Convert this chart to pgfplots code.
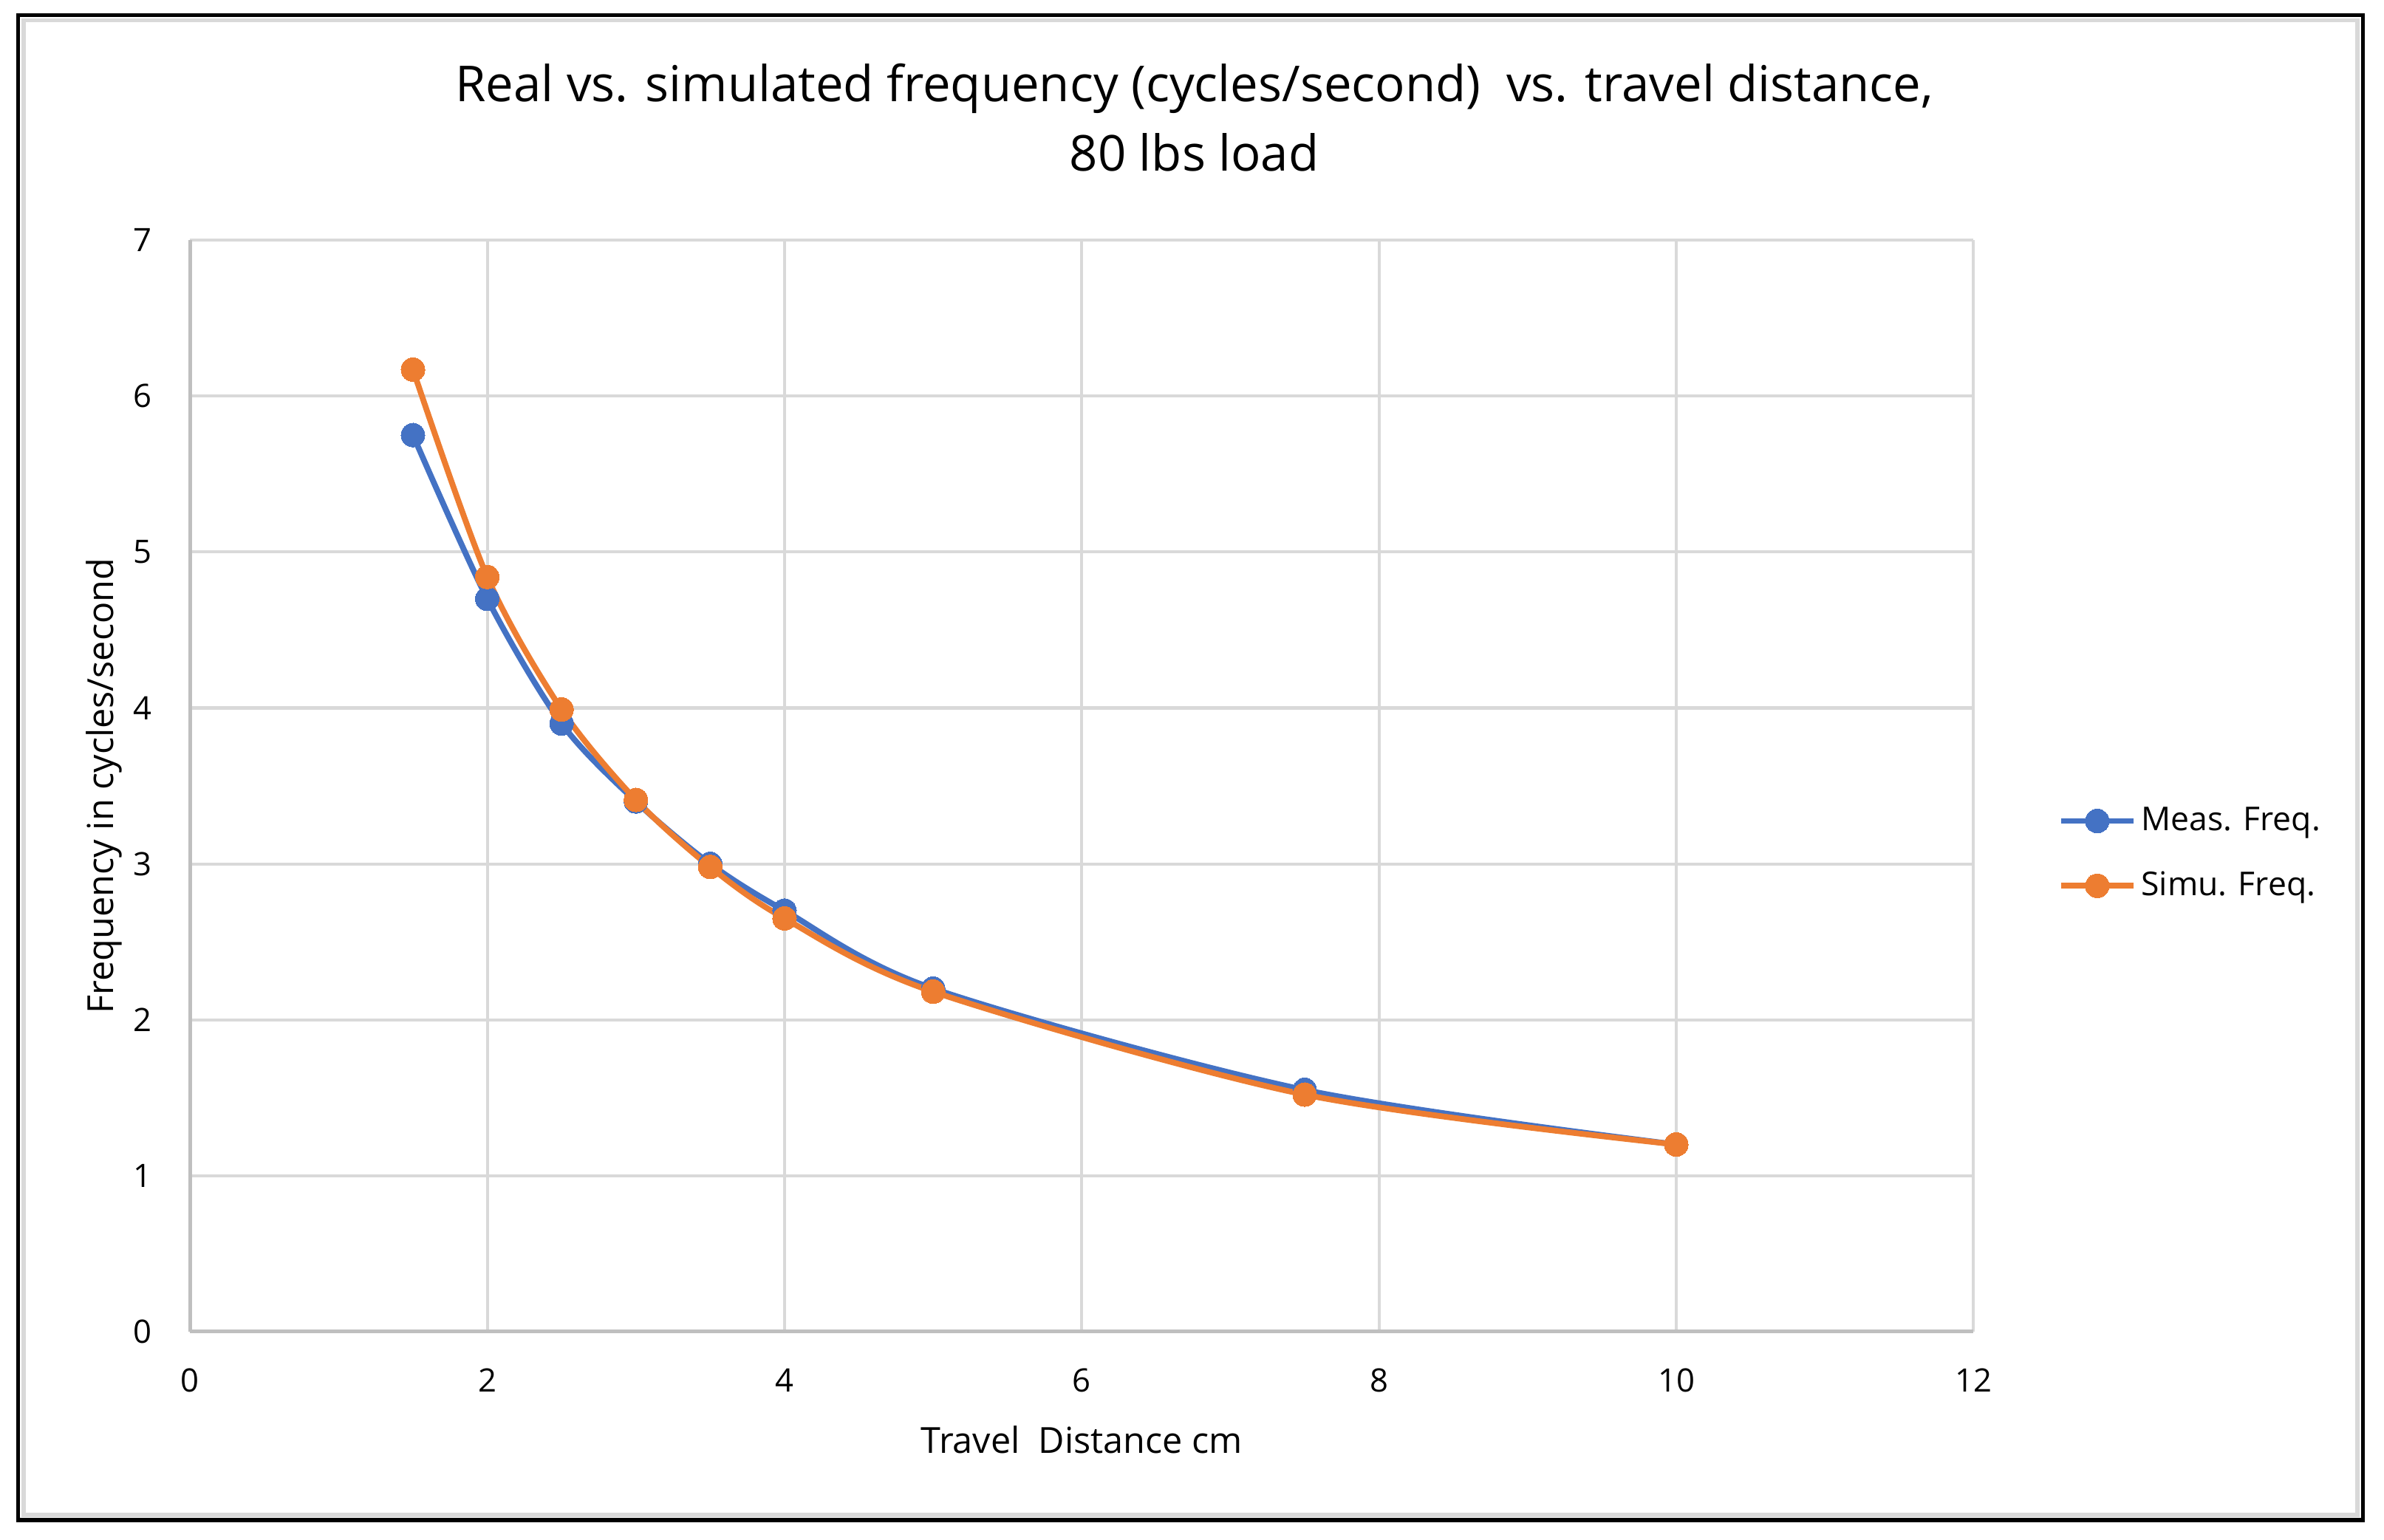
\documentclass[border=0pt]{standalone}
\usepackage{fontspec}
\setmainfont{Open Sans}
\usepackage{pgfplots}
\pgfplotsset{compat=1.18}
\definecolor{mblue}{HTML}{4472C4}
\definecolor{morange}{HTML}{ED7D31}
\definecolor{gridgray}{HTML}{D9D9D9}
\definecolor{axgray}{HTML}{BFBFBF}
\begin{document}
\begin{tikzpicture}
\fill[white] (-62.5bp,-68.5bp) rectangle (721.5bp,438bp);
\draw[gridgray, line width=1.4bp] (-54.8bp,-60.3bp) rectangle (712.8bp,431.3bp);
\draw[black, line width=1.3bp] (-56.5bp,-62bp) rectangle (714.5bp,433bp);
\begin{axis}[
  at={(0,0)}, anchor=south west,
  scale only axis, width=586.5bp, height=359bp,
  xmin=0, xmax=12, ymin=0, ymax=7,
  xtick={0,2,...,12}, ytick={0,1,...,7},
  axis lines=left,
  axis line style={axgray, line width=1.2bp, -},
  grid=major, grid style={gridgray, line width=1bp},
  major tick length=0pt,
  /pgf/number format/assume math mode=true,
  tick label style={font=\fontsize{10.6bp}{12bp}\selectfont, color=black, inner sep=0pt},
  xticklabel style={anchor=north, yshift=-12bp},
  yticklabel style={anchor=east, xshift=-12.5bp},
  xlabel={Travel\ \ Distance cm},
  ylabel={Frequency in cycles/second},
  xlabel style={at={(axis description cs:0.5,-0.0989)}, anchor=center, font=\fontsize{11.8bp}{14bp}\selectfont, inner sep=0pt},
  ylabel style={at={(axis description cs:-0.048,0.5)}, anchor=center, rotate=0, font=\fontsize{11.8bp}{14bp}\selectfont, inner sep=0pt},
  title={Real vs. simulated frequency (cycles/second)\ \ vs. travel distance,\\80 lbs load},
  title style={at={(axis description cs:0.5631,1.0455)}, anchor=south, inner sep=0pt, align=center, font=\fontsize{16.3bp}{23bp}\selectfont},
  legend style={at={(axis description cs:1.047,0.438)}, anchor=west, draw=none, fill=none, inner sep=0pt, row sep=9bp,
    font=\fontsize{10.8bp}{12bp}\selectfont, nodes={inner sep=1.5bp}},
  legend cell align=left,
  legend image code/.code={\draw[mark repeat=2,mark phase=2,#1] plot coordinates {(-1.5bp,0bp) (10.5bp,0bp) (22.5bp,0bp)};},
]
\addplot[mblue, line width=1.9bp, smooth, tension=0.5, mark=*, mark size=3.9bp, mark options={solid, fill=mblue, draw=mblue, line width=0pt}]
  coordinates {(1.5,5.75) (2,4.70) (2.5,3.90) (3,3.40) (3.5,3.00) (4,2.70) (5,2.20) (7.5,1.55) (10,1.20)};
\addlegendentry{Meas. Freq.}
\addplot[morange, line width=1.9bp, smooth, tension=0.5, mark=*, mark size=3.9bp, mark options={solid, fill=morange, draw=morange, line width=0pt}]
  coordinates {(1.5,6.17) (2,4.84) (2.5,3.99) (3,3.41) (3.5,2.98) (4,2.65) (5,2.18) (7.5,1.52) (10,1.20)};
\addlegendentry{Simu. Freq.}
\end{axis}
\end{tikzpicture}
\end{document}
